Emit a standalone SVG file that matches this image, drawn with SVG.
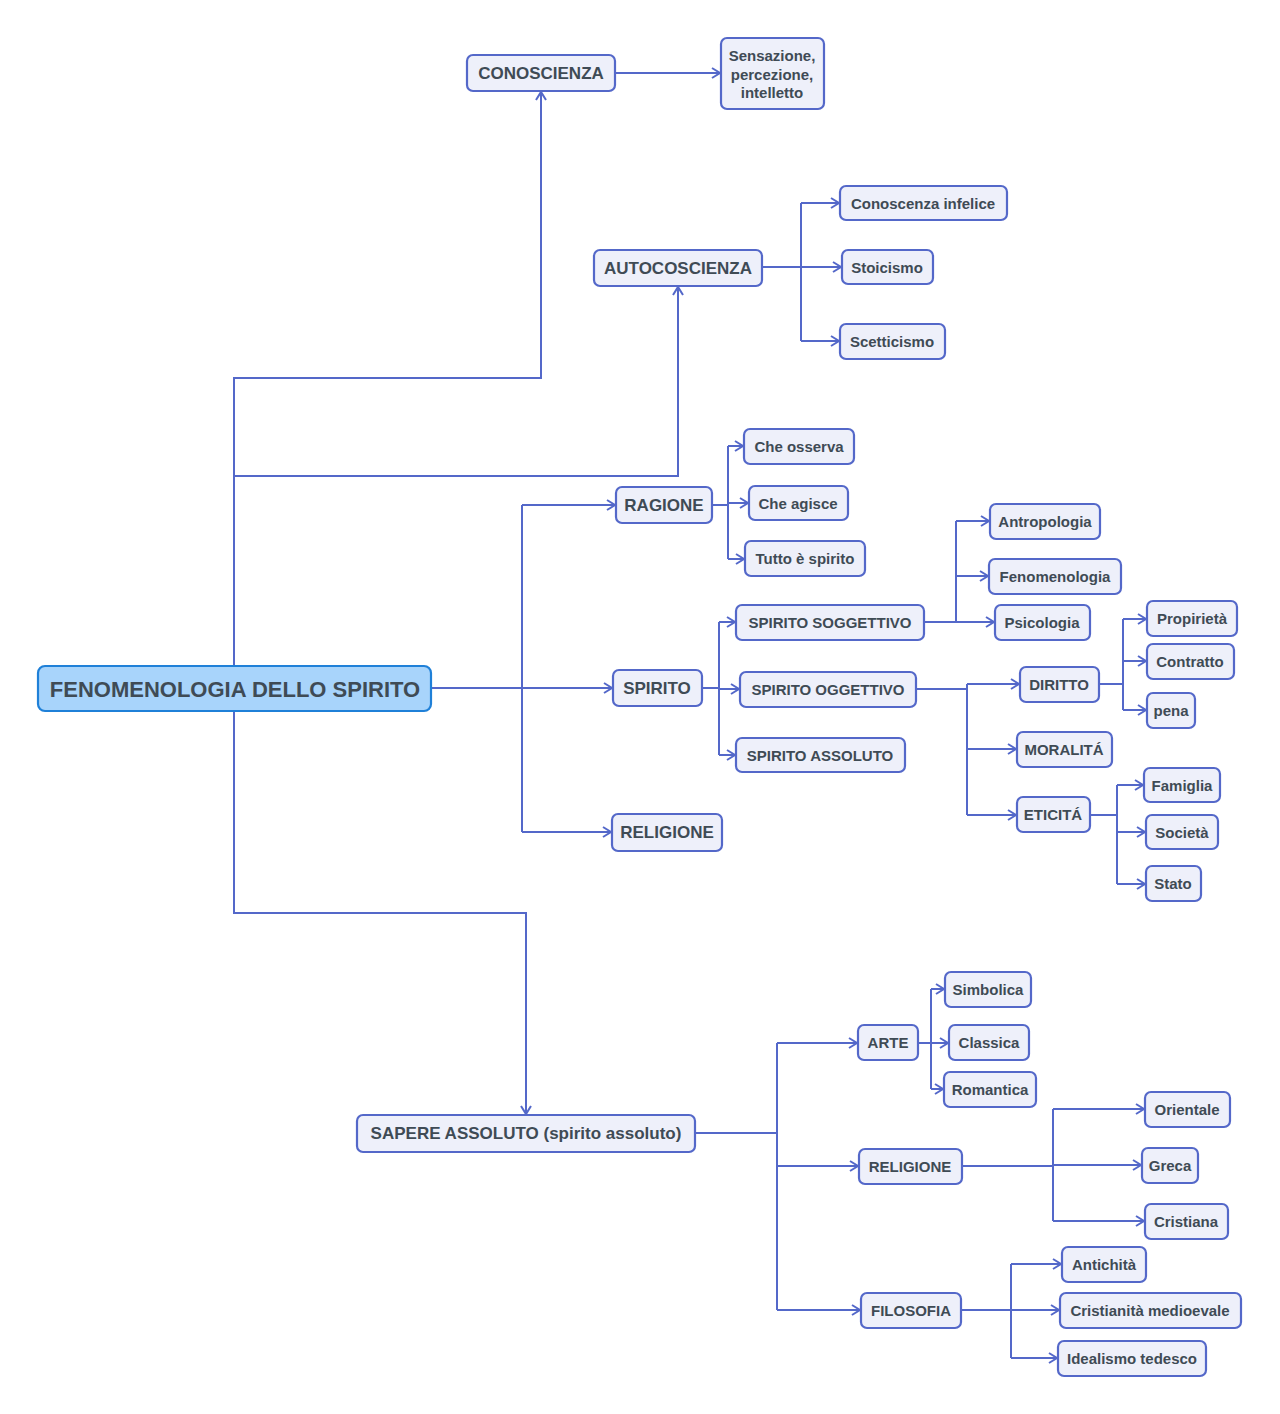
<svg xmlns="http://www.w3.org/2000/svg" width="1280" height="1414" viewBox="0 0 1280 1414">
<style>
.n rect{fill:#eef0fa;stroke:#5468c9;stroke-width:2.2}
.n text{font-family:"Liberation Sans",Arial,sans-serif;font-weight:bold;font-size:15px;fill:#3f4b55;text-anchor:middle;dominant-baseline:central}
.b text{font-size:17px}
.m rect{fill:#a8d4fb;stroke:#1f80d8;stroke-width:2.2}
.m text{font-size:22px}
#c path{fill:none;stroke:#5468c9;stroke-width:2}
</style>
<defs><marker id="a" markerWidth="12" markerHeight="12" refX="10" refY="6" orient="auto" markerUnits="userSpaceOnUse"><path d="M2,1 L10,6 L2,11" fill="none" stroke="#5468c9" stroke-width="2"/></marker></defs>
<rect width="1280" height="1414" fill="#fff"/>
<g id="c">
<path d="M234,666V378H541V92" marker-end="url(#a)"/>
<path d="M234,476H678V287" marker-end="url(#a)"/>
<path d="M234,711V913H526V1114" marker-end="url(#a)"/>
<path d="M431,688H522M522,505V832"/>
<path d="M522,505H615" marker-end="url(#a)"/>
<path d="M522,688H612" marker-end="url(#a)"/>
<path d="M522,832H611" marker-end="url(#a)"/>
<path d="M615,73H720" marker-end="url(#a)"/>
<path d="M762,267H801M801,203V341"/>
<path d="M801,203H839" marker-end="url(#a)"/><path d="M801,267H841" marker-end="url(#a)"/><path d="M801,341H839" marker-end="url(#a)"/>
<path d="M712,505H728M728,446V559"/>
<path d="M728,446H743" marker-end="url(#a)"/><path d="M728,503H748" marker-end="url(#a)"/><path d="M728,559H744" marker-end="url(#a)"/>
<path d="M702,688H719M719,622V755"/>
<path d="M719,622H735" marker-end="url(#a)"/><path d="M719,689H739" marker-end="url(#a)"/><path d="M719,755H735" marker-end="url(#a)"/>
<path d="M924,622H956M956,521V622"/>
<path d="M956,521H989" marker-end="url(#a)"/><path d="M956,576H988" marker-end="url(#a)"/><path d="M956,622H994" marker-end="url(#a)"/>
<path d="M916,689H967M967,684V815"/>
<path d="M967,684H1019" marker-end="url(#a)"/><path d="M967,749H1016" marker-end="url(#a)"/><path d="M967,815H1016" marker-end="url(#a)"/>
<path d="M1099,684H1123M1123,619V710"/>
<path d="M1123,619H1146" marker-end="url(#a)"/><path d="M1123,661H1146" marker-end="url(#a)"/><path d="M1123,710H1146" marker-end="url(#a)"/>
<path d="M1090,815H1117M1117,785V884"/>
<path d="M1117,785H1143" marker-end="url(#a)"/><path d="M1117,832H1145" marker-end="url(#a)"/><path d="M1117,884H1145" marker-end="url(#a)"/>
<path d="M695,1133H777M777,1043V1310"/>
<path d="M777,1043H857" marker-end="url(#a)"/><path d="M777,1166H858" marker-end="url(#a)"/><path d="M777,1310H860" marker-end="url(#a)"/>
<path d="M918,1043H931M931,989V1089"/>
<path d="M931,989H944" marker-end="url(#a)"/><path d="M931,1043H948" marker-end="url(#a)"/><path d="M931,1089H943" marker-end="url(#a)"/>
<path d="M962,1166H1053M1053,1109V1221"/>
<path d="M1053,1109H1144" marker-end="url(#a)"/><path d="M1053,1165H1141" marker-end="url(#a)"/><path d="M1053,1221H1144" marker-end="url(#a)"/>
<path d="M961,1310H1011M1011,1264V1358"/>
<path d="M1011,1264H1061" marker-end="url(#a)"/><path d="M1011,1310H1059" marker-end="url(#a)"/><path d="M1011,1358H1057" marker-end="url(#a)"/>
</g>
<g id="main" class="n m"><rect x="38" y="666" width="393" height="45" rx="7"/><text x="235" y="689">FENOMENOLOGIA DELLO SPIRITO</text></g>
<g id="conoscienza" class="n b"><rect x="467" y="55" width="148" height="36" rx="6"/><text x="541" y="73">CONOSCIENZA</text></g>
<g id="sensazione" class="n"><rect x="721" y="38" width="103" height="71" rx="6"/><text x="772" y="55">Sensazione,</text><text x="772" y="74">percezione,</text><text x="772" y="92">intelletto</text></g>
<g id="autocoscienza" class="n b"><rect x="594" y="250" width="168" height="36" rx="6"/><text x="678" y="268">AUTOCOSCIENZA</text></g>
<g id="infelice" class="n"><rect x="840" y="186" width="167" height="34" rx="6"/><text x="923" y="203">Conoscenza infelice</text></g>
<g id="stoicismo" class="n"><rect x="842" y="250" width="91" height="34" rx="6"/><text x="887" y="267">Stoicismo</text></g>
<g id="scetticismo" class="n"><rect x="840" y="324" width="105" height="35" rx="6"/><text x="892" y="341">Scetticismo</text></g>
<g id="ragione" class="n b"><rect x="616" y="487" width="96" height="36" rx="6"/><text x="664" y="505">RAGIONE</text></g>
<g id="osserva" class="n"><rect x="744" y="429" width="110" height="35" rx="6"/><text x="799" y="446">Che osserva</text></g>
<g id="agisce" class="n"><rect x="749" y="486" width="99" height="34" rx="6"/><text x="798" y="503">Che agisce</text></g>
<g id="tutto" class="n"><rect x="745" y="541" width="120" height="35" rx="6"/><text x="805" y="558">Tutto è spirito</text></g>
<g id="spirito" class="n b"><rect x="613" y="670" width="89" height="36" rx="6"/><text x="657" y="688">SPIRITO</text></g>
<g id="soggettivo" class="n"><rect x="736" y="605" width="188" height="35" rx="6"/><text x="830" y="622">SPIRITO SOGGETTIVO</text></g>
<g id="oggettivo" class="n"><rect x="740" y="672" width="176" height="35" rx="6"/><text x="828" y="689">SPIRITO OGGETTIVO</text></g>
<g id="assoluto" class="n"><rect x="736" y="738" width="169" height="34" rx="6"/><text x="820" y="755">SPIRITO ASSOLUTO</text></g>
<g id="antropologia" class="n"><rect x="990" y="504" width="110" height="35" rx="6"/><text x="1045" y="521">Antropologia</text></g>
<g id="fenomenologia" class="n"><rect x="989" y="559" width="132" height="35" rx="6"/><text x="1055" y="576">Fenomenologia</text></g>
<g id="psicologia" class="n"><rect x="995" y="605" width="95" height="35" rx="6"/><text x="1042" y="622">Psicologia</text></g>
<g id="diritto" class="n"><rect x="1020" y="667" width="79" height="35" rx="6"/><text x="1059" y="684">DIRITTO</text></g>
<g id="moralita" class="n"><rect x="1017" y="732" width="95" height="35" rx="6"/><text x="1064" y="749">MORALITÁ</text></g>
<g id="eticita" class="n"><rect x="1017" y="797" width="73" height="35" rx="6"/><text x="1053" y="814">ETICITÁ</text></g>
<g id="proprieta" class="n"><rect x="1147" y="601" width="90" height="35" rx="6"/><text x="1192" y="618">Propirietà</text></g>
<g id="contratto" class="n"><rect x="1147" y="644" width="87" height="35" rx="6"/><text x="1190" y="661">Contratto</text></g>
<g id="pena" class="n"><rect x="1147" y="693" width="48" height="35" rx="6"/><text x="1171" y="710">pena</text></g>
<g id="famiglia" class="n"><rect x="1144" y="768" width="76" height="34" rx="6"/><text x="1182" y="785">Famiglia</text></g>
<g id="societa" class="n"><rect x="1146" y="815" width="72" height="34" rx="6"/><text x="1182" y="832">Società</text></g>
<g id="stato" class="n"><rect x="1146" y="866" width="55" height="35" rx="6"/><text x="1173" y="883">Stato</text></g>
<g id="religione1" class="n b"><rect x="612" y="814" width="110" height="37" rx="6"/><text x="667" y="832">RELIGIONE</text></g>
<g id="sapere" class="n b"><rect x="357" y="1115" width="338" height="37" rx="6"/><text x="526" y="1133">SAPERE ASSOLUTO (spirito assoluto)</text></g>
<g id="arte" class="n"><rect x="858" y="1025" width="60" height="35" rx="6"/><text x="888" y="1042">ARTE</text></g>
<g id="simbolica" class="n"><rect x="945" y="972" width="86" height="35" rx="6"/><text x="988" y="989">Simbolica</text></g>
<g id="classica" class="n"><rect x="949" y="1025" width="80" height="35" rx="6"/><text x="989" y="1042">Classica</text></g>
<g id="romantica" class="n"><rect x="944" y="1072" width="92" height="35" rx="6"/><text x="990" y="1089">Romantica</text></g>
<g id="religione2" class="n"><rect x="859" y="1149" width="103" height="35" rx="6"/><text x="910" y="1166">RELIGIONE</text></g>
<g id="orientale" class="n"><rect x="1145" y="1092" width="85" height="35" rx="6"/><text x="1187" y="1109">Orientale</text></g>
<g id="greca" class="n"><rect x="1142" y="1148" width="56" height="35" rx="6"/><text x="1170" y="1165">Greca</text></g>
<g id="cristiana" class="n"><rect x="1145" y="1204" width="83" height="35" rx="6"/><text x="1186" y="1221">Cristiana</text></g>
<g id="filosofia" class="n"><rect x="861" y="1293" width="100" height="35" rx="6"/><text x="911" y="1310">FILOSOFIA</text></g>
<g id="antichita" class="n"><rect x="1062" y="1247" width="84" height="35" rx="6"/><text x="1104" y="1264">Antichità</text></g>
<g id="cristianita" class="n"><rect x="1060" y="1293" width="181" height="35" rx="6"/><text x="1150" y="1310">Cristianità medioevale</text></g>
<g id="idealismo" class="n"><rect x="1058" y="1341" width="148" height="35" rx="6"/><text x="1132" y="1358">Idealismo tedesco</text></g>
</svg>
